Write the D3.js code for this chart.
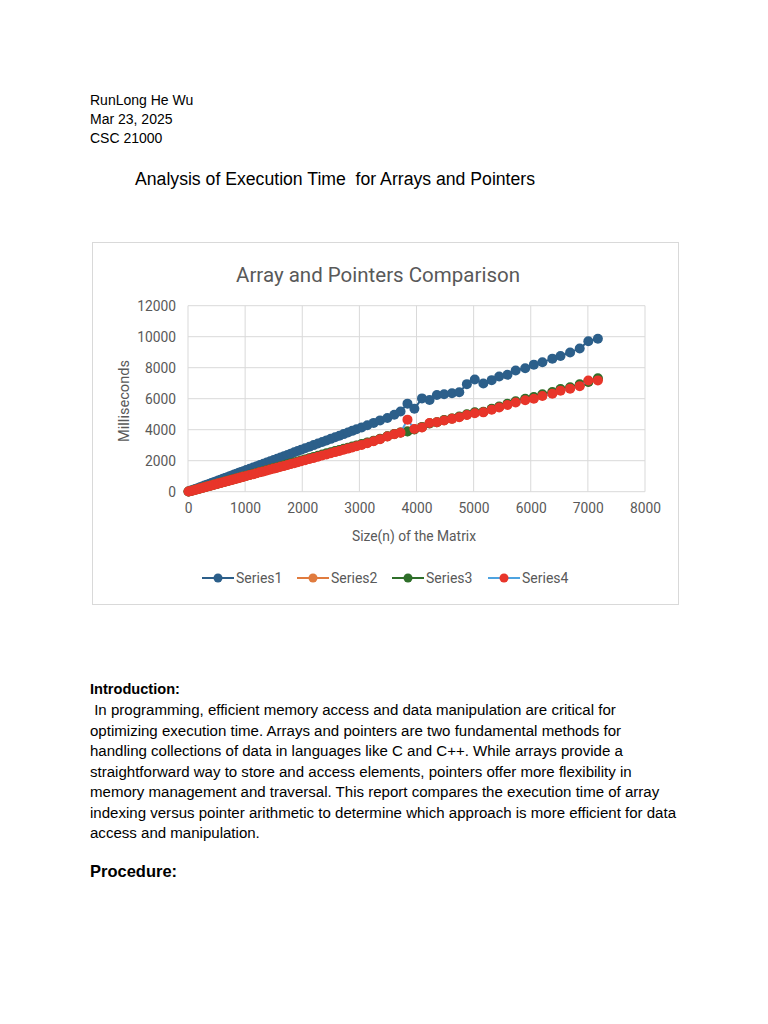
<!DOCTYPE html>
<html><head><meta charset="utf-8">
<script src="https://cdn.jsdelivr.net/npm/d3@7"></script>
<style>body{margin:0;background:#fff}svg{display:block}</style>
</head><body>
<script>
// ---- data ----
const xValues = [
  10,50,90,130,170,210,250,290,330,370,410,450,490,530,570,610,650,690,730,770,810,850,890,930,970,
  1020,1080,1140,1200,1260,1320,1380,1440,1500,1560,1620,1680,1740,1800,1860,1920,1980,
  2050,2125,2200,2275,2350,2425,2500,2575,2650,2725,2800,2875,2950,
  3040,3140,3250,3362,3490,3611,3721,
  3842,3963,4096,4229,4357,4483,4621,4749,4882,5020,5170,5316,5447,5593,5736,5903,6054,6204,6378,6521,6689,6857,7008,7175
];
const series1 = [
  15,70,120,175,230,285,340,395,445,500,555,610,665,720,775,830,885,940,995,1050,1105,1160,1215,1270,1325,
  1395,1475,1560,1640,1720,1800,1880,1965,2045,2125,2210,2290,2370,2455,2540,2625,2705,
  2800,2900,3005,3105,3205,3310,3410,3510,3615,3715,3820,3925,4030,
  4150,4290,4440,4600,4750,4960,5170,
  5680,5350,6020,5920,6237,6282,6347,6411,6940,7243,6985,7198,7430,7540,7817,7966,8198,8346,8585,8753,8985,9243,9707,9862
];
const series2 = [
  11,48,88,128,168,208,250,290,330,370,410,450,490,531,571,611,651,692,732,772,813,853,893,933,974,
  1025,1085,1142,1203,1263,1324,1384,1445,1505,1562,1623,1684,1745,1806,1862,1924,1985,
  2058,2135,2212,2290,2365,2440,2515,2588,2662,2735,2810,2882,2958,
  3048,3155,3272,3405,3570,3715,3815,
  3900,4030,4165,4415,4480,4605,4715,4825,4970,5095,5140,5320,5465,5640,5790,5945,6055,6230,6375,6570,6695,6870,7100,7250
];
const series3 = [
  12,50,90,132,172,212,254,294,334,375,415,456,496,537,577,618,658,699,740,780,821,861,902,942,983,
  1035,1096,1155,1216,1277,1338,1398,1460,1521,1580,1642,1703,1765,1828,1885,1948,2010,
  2085,2165,2245,2325,2400,2475,2550,2620,2695,2765,2840,2910,2985,
  3075,3180,3295,3420,3580,3720,3820,
  3880,4020,4180,4400,4480,4620,4730,4850,4990,5130,5160,5350,5500,5680,5830,5990,6110,6290,6430,6620,6740,6930,7080,7320
];
const series4 = [
  10,45,85,125,165,205,245,285,325,365,405,445,485,525,565,605,645,685,725,765,805,845,885,925,965,
  1015,1075,1130,1190,1250,1310,1370,1430,1490,1545,1605,1665,1725,1785,1840,1900,1960,
  2030,2105,2180,2255,2330,2405,2480,2555,2630,2705,2780,2855,2930,
  3020,3130,3250,3390,3560,3710,3810,
  4650,4040,4150,4430,4480,4590,4700,4800,4950,5060,5120,5290,5430,5600,5750,5900,6000,6170,6320,6520,6650,6810,7170,7180
];
const seriesNames = ["Series1","Series2","Series3","Series4"];
const xTicks = [0,1000,2000,3000,4000,5000,6000,7000,8000];
const yTicks = [0,2000,4000,6000,8000,10000,12000];

const headerLines = ["RunLong He Wu","Mar 23, 2025","CSC 21000"];
const docTitle = "Analysis of Execution Time  for Arrays and Pointers";
const introLines = [
  " In programming, efficient memory access and data manipulation are critical for",
  "optimizing execution time. Arrays and pointers are two fundamental methods for",
  "handling collections of data in languages like C and C++. While arrays provide a",
  "straightforward way to store and access elements, pointers offer more flexibility in",
  "memory management and traversal. This report compares the execution time of array",
  "indexing versus pointer arithmetic to determine which approach is more efficient for data",
  "access and manipulation."
];

// ---- drawing ----
const W = 768, H = 1024;
const svg = d3.select("body").append("svg").attr("width", W).attr("height", H);
svg.append("rect").attr("width", W).attr("height", H).attr("fill", "#fff");

const docFont = "'Liberation Sans', Arial, sans-serif";
const chartFont = "Roboto, 'Open Sans', sans-serif";

svg.selectAll("text.hdr").data(headerLines).join("text")
  .attr("x", 90).attr("y", (d, i) => 105 + i * 19.2)
  .attr("font-family", docFont).attr("font-size", 14).attr("fill", "#000").text(d => d);

svg.append("text").attr("x", 135).attr("y", 185)
  .attr("font-family", docFont).attr("font-size", 17.65).attr("fill", "#000")
  .style("white-space", "pre").text(docTitle);

// chart frame
svg.append("rect").attr("x", 92.5).attr("y", 242.5).attr("width", 586).attr("height", 362)
  .attr("fill", "none").attr("stroke", "#d9d9d9");

const x = d3.scaleLinear().domain([0, 8000]).range([188, 645]);
const y = d3.scaleLinear().domain([0, 12000]).range([491.7, 305.7]);

const g = svg.append("g");
g.selectAll("line.vg").data(xTicks).join("line")
  .attr("x1", d => x(d)).attr("x2", d => x(d)).attr("y1", y(12000)).attr("y2", y(0))
  .attr("stroke", "#d9d9d9").attr("stroke-width", 1);
g.selectAll("line.hg").data(yTicks).join("line")
  .attr("x1", x(0)).attr("x2", x(8000)).attr("y1", d => y(d)).attr("y2", d => y(d))
  .attr("stroke", "#d9d9d9").attr("stroke-width", 1);

const xAxis = svg.append("g").attr("transform", `translate(0,${y(0)})`)
  .call(d3.axisBottom(x).tickValues(xTicks).tickSize(0).tickPadding(12).tickFormat(d3.format("d")));
const yAxis = svg.append("g").attr("transform", `translate(${x(0)},0)`)
  .call(d3.axisLeft(y).tickValues(yTicks).tickSize(0).tickPadding(12).tickFormat(d3.format("d")));
[xAxis, yAxis].forEach(a => {
  a.select(".domain").remove();
  a.selectAll("text").attr("font-family", chartFont).attr("font-size", 13.8).attr("fill", "#595959");
});

svg.append("text").attr("x", 378).attr("y", 282).attr("text-anchor", "middle")
  .attr("font-family", chartFont).attr("font-size", 20.5).attr("fill", "#595959")
  .text("Array and Pointers Comparison");
svg.append("text").attr("x", 414).attr("y", 541).attr("text-anchor", "middle")
  .attr("font-family", chartFont).attr("font-size", 13.8).attr("fill", "#595959")
  .text("Size(n) of the Matrix");
svg.append("text").attr("transform", "translate(129,401) rotate(-90)").attr("text-anchor", "middle")
  .attr("font-family", chartFont).attr("font-size", 14.6).attr("fill", "#595959")
  .text("Milliseconds");

const seriesData = [series1, series2, series3, series4];
const lineColors = ["#2c5f8a", "#e07b3e", "#2f6f2a", "#4ea3e0"];
const markColors = ["#2c5f8a", "#e07b3e", "#2f6f2a", "#e8352a"];
const line = d3.line().x(d => x(d[0])).y(d => y(d[1]));
seriesData.forEach((vals, si) => {
  const pts = xValues.map((xv, i) => [xv, vals[i]]);
  const sg = svg.append("g");
  sg.append("path").datum(pts).attr("d", line).attr("fill", "none")
    .attr("stroke", lineColors[si]).attr("stroke-width", 2);
  sg.selectAll("circle").data(pts).join("circle")
    .attr("cx", d => x(d[0])).attr("cy", d => y(d[1])).attr("r", 5)
    .attr("fill", markColors[si]);
});

const legX = [202, 297, 392, 488];
seriesNames.forEach((n, i) => {
  const lg = svg.append("g").attr("transform", `translate(${legX[i]},578)`);
  lg.append("line").attr("x1", 0).attr("x2", 32).attr("y1", 0).attr("y2", 0)
    .attr("stroke", lineColors[i]).attr("stroke-width", 2);
  lg.append("circle").attr("cx", 16).attr("cy", 0).attr("r", 4.5).attr("fill", markColors[i]);
  lg.append("text").attr("x", 34).attr("y", 5).attr("font-family", chartFont)
    .attr("font-size", 14).attr("fill", "#595959").text(n);
});

svg.append("text").attr("x", 90).attr("y", 694).attr("font-family", docFont)
  .attr("font-size", 14.6).attr("font-weight", "bold").attr("fill", "#000").text("Introduction:");
svg.selectAll("text.intro").data(introLines).join("text")
  .attr("x", 90).attr("y", (d, i) => 715 + i * 20.5)
  .attr("font-family", docFont).attr("font-size", 15.05).attr("fill", "#000")
  .style("white-space", "pre").text(d => d);
svg.append("text").attr("x", 90).attr("y", 877).attr("font-family", docFont)
  .attr("font-size", 16.5).attr("font-weight", "bold").attr("fill", "#000").text("Procedure:");
</script>
</body></html>
